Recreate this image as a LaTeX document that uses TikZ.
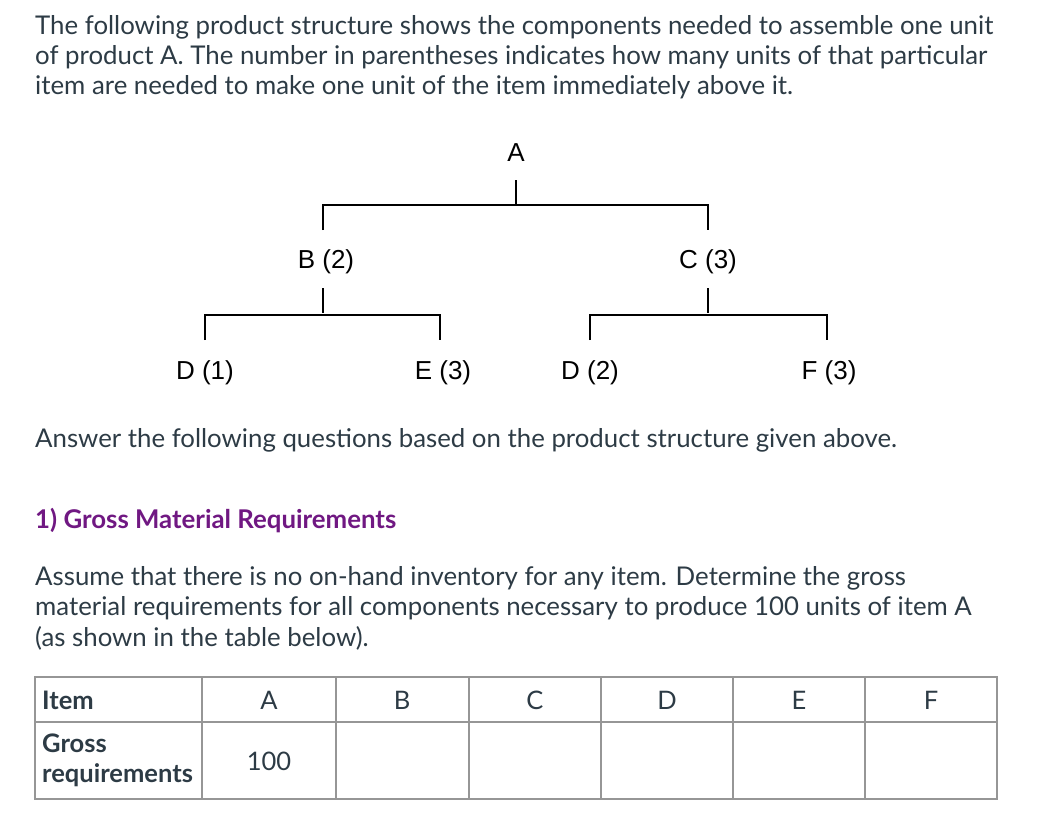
\documentclass[tikz,border=0pt]{standalone}
\usepackage{fontspec}
\setmainfont{Lato}
\newfontfamily\arial{Liberation Sans}
\definecolor{purp}{RGB}{112,24,130}
\definecolor{tx}{RGB}{45,59,69}
\definecolor{bd}{RGB}{150,150,150}
\begin{document}
\begin{tikzpicture}[x=1pt,y=-1pt,
  para/.style={anchor=west,inner sep=0,font=\fontsize{25.8}{30}\selectfont,text=tx},
  lab/.style={inner sep=0,font=\arial\fontsize{26}{28}\selectfont},
  ln/.style={line width=1.3pt},
  cell/.style={inner sep=0,font=\fontsize{25.5}{30}\selectfont,text=tx}]
\useasboundingbox (0,0) rectangle (1040,812);
\node[para] (p1) at (35,27) {The following product structure shows the components needed to assemble one unit};
\node[para] (p2) at (35,57) {of product A. The number in parentheses indicates how many units of that particular};
\node[para] (p3) at (35,87) {item are needed to make one unit of the item immediately above it.};
% tree
\node[lab] (A) at (516,153) {A};
\node[lab] (B) at (326,262) {B (2)};
\node[lab] (C) at (708,262) {C (3)};
\node[lab] (D1) at (205,373) {D (1)};
\node[lab] (E) at (443,373) {E (3)};
\node[lab] (D2) at (590,373) {D (2)};
\node[lab] (F) at (829,373) {F (3)};
\draw[ln] (516,180) -- (516,205);
\draw[ln] (323,230) -- (323,205) -- (708,205) -- (708,230);
\draw[ln] (323,288) -- (323,313);
\draw[ln] (205,340) -- (205,315) -- (440,315) -- (440,340);
\draw[ln] (708,288) -- (708,313);
\draw[ln] (590,340) -- (590,315) -- (827,315) -- (827,340);
\node[para] (q) at (35,440) {Answer the following questions based on the product structure given above.};
\node[para,text=purp,font=\bfseries\fontsize{25.8}{30}\selectfont] (h) at (35,521) {1) Gross Material Requirements};
\node[para] (r1) at (35,578) {Assume that there is no on-hand inventory for any item. Determine the gross};
\node[para] (r2) at (35,608) {material requirements for all components necessary to produce 100 units of item A};
\node[para] (r3) at (35,638) {(as shown in the table below).};
% table
\draw[bd,line width=1.5pt] (35,677) rectangle (997,799);
\draw[bd,line width=1.5pt] (35,722) -- (997,722);
\foreach \x in {202,336,469,601,733,865} \draw[bd,line width=1.5pt] (\x,677) -- (\x,799);
\node[cell,anchor=west,font=\bfseries\fontsize{25.5}{30}\selectfont] (it) at (42,700) {Item};
\node[cell,anchor=west,align=left,font=\bfseries\fontsize{25.5}{30}\selectfont] (gr) at (42,760) {Gross\\requirements};
\node[cell] (ca) at (269,700) {A};
\node[cell] (cb) at (402,700) {B};
\node[cell] (cc) at (535,700) {C};
\node[cell] (cd) at (667,700) {D};
\node[cell] (ce) at (799,700) {E};
\node[cell] (cf) at (931,700) {F};
\node[cell] (v) at (269,761) {100};
\end{tikzpicture}
\end{document}
